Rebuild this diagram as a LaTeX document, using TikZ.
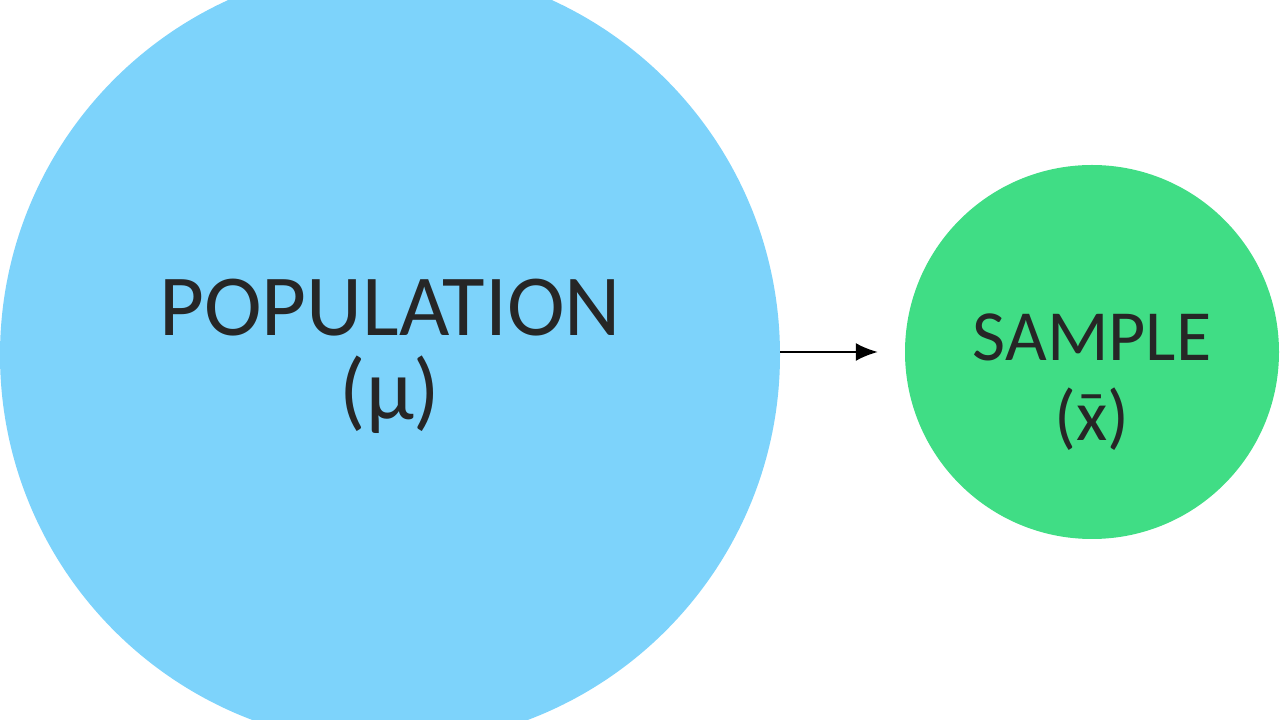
\documentclass[tikz,border=0pt]{standalone}
\usepackage{fontspec}
\setmainfont{Carlito}
\usetikzlibrary{positioning,arrows.meta}
\definecolor{popblue}{HTML}{7DD3FB}
\definecolor{samplegreen}{HTML}{40DD85}
\begin{document}
\begin{tikzpicture}[x=1pt,y=1pt,
  bubble/.style={circle,inner sep=0pt},
  caption/.style={align=center,text=black!85,inner sep=0pt}]
\useasboundingbox (0,0) rectangle (1280,720);

% the two groups
\node[bubble,fill=popblue,minimum size=780pt] (pop) at (390,365) {};
\node[bubble,fill=samplegreen,minimum size=374pt] (sample) at (1092,368) {};
\node[caption,font=\fontsize{87}{84}\selectfont,yshift=-1pt] (poptext) at (pop.center) {POPULATION\\(μ)};
\node[caption,font=\fontsize{72}{80}\selectfont,yshift=-30pt] (sampletext) at (sample.center) {SAMPLE\\(\accent"AF x)};

% drawing the sample
\draw[-{Latex[length=22pt,width=18pt]},line width=2pt] (sample.west -| pop.east) -- ([xshift=-27pt]sample.west);
\end{tikzpicture}
\end{document}
